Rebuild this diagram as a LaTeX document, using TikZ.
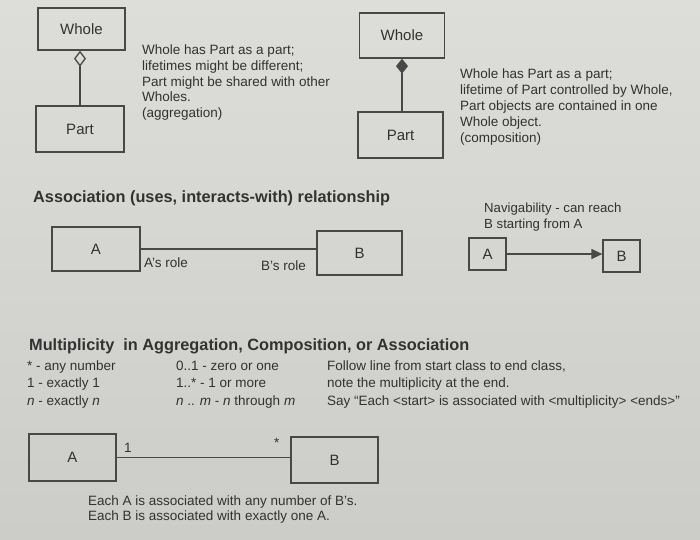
\documentclass[tikz,border=0pt]{standalone}
\usepackage{fontspec}
\setmainfont{Liberation Sans}
\usepackage{tikz}
\usetikzlibrary{arrows.meta}
\definecolor{ink}{RGB}{50,50,50}
\definecolor{wire}{RGB}{72,72,72}
\definecolor{paper}{RGB}{221,221,218}
\definecolor{paperdark}{RGB}{204,204,201}

\begin{document}
\begin{tikzpicture}[x=1pt,y=-1pt,
  cls/.style={draw=wire,line width=1.3pt,inner sep=0pt,text=ink,font=\fontsize{15}{15}\selectfont},
  note/.style={anchor=north west,align=left,inner sep=0pt,text=ink,font=\fontsize{13.5}{15.6}\selectfont},
  head/.style={anchor=west,inner sep=0pt,text=ink,font=\bfseries\fontsize{16.3}{16.3}\selectfont},
  link/.style={draw=wire,line width=1.3pt}]
\fill[top color=paper,bottom color=paperdark] (0,0) rectangle (700,539);
\useasboundingbox (0,0) rectangle (700,539);
% aggregation
\node[cls,minimum width=87pt,minimum height=42pt] (w1) at (81.5,29) {Whole};
\node[cls,minimum width=88pt,minimum height=46pt] (p1) at (80,129) {Part};
\draw[link,-{Diamond[open,length=16pt,width=12pt]}] (p1.north) -- (p1.north |- w1.south);
\node[note] (t1) at (142,45) {Whole has Part as a part;\\lifetimes might be different;\\Part might be shared with other\\Wholes.\\(aggregation)};
% composition
\node[cls,minimum width=85pt,minimum height=45pt] (w2) at (402,35.5) {Whole};
\node[cls,minimum width=85pt,minimum height=46pt] (p2) at (400.5,135) {Part};
\draw[link,-{Diamond[length=15pt,width=12pt]}] (p2.north -| w2.south) -- (w2.south);
\node[note,font=\fontsize{13.5}{16}\selectfont] (t2) at (460,68.5) {Whole has Part as a part;\\lifetime of Part controlled by Whole,\\Part objects are contained in one\\Whole object.\\(composition)};
% association
\node[head] (h1) at (33,198.5) {Association (uses, interacts-with) relationship};
\node[cls,minimum width=88pt,minimum height=44pt] (a1) at (96,249) {A};
\node[cls,minimum width=85pt,minimum height=44pt] (b1) at (359.5,253) {B};
\draw[link] (a1.east) -- (a1.east -| b1.west);
\node[note,anchor=west] (r1) at (144,263) {A's role};
\node[note,anchor=west] (r2) at (261,266) {B's role};
% navigability
\node[note,font=\fontsize{13.2}{16}\selectfont] (t3) at (484,203) {Navigability - can reach\\B starting from A};
\node[cls,minimum width=37pt,minimum height=32pt] (a2) at (487.5,254) {A};
\node[cls,minimum width=37pt,minimum height=32pt] (b2) at (621.5,256) {B};
\draw[link,-{Triangle[length=11pt,width=10pt]}] (a2.east) -- (a2.east -| b2.west);
% multiplicity
\node[head] (h2) at (29,346.5) {Multiplicity\ \ in Aggregation, Composition, or Association};
\node[note,font=\fontsize{13.5}{17.5}\selectfont] (m1) at (27,360.5) {* - any number\\1 - exactly 1\\\textit{n} - exactly \textit{n}};
\node[note,font=\fontsize{13.5}{17.5}\selectfont] (m2) at (176,360.5) {0..1 - zero or one\\1..* - 1 or more\\\textit{n} .. \textit{m} - \textit{n} through \textit{m}};
\node[note,font=\fontsize{13.5}{17.5}\selectfont] (m3) at (327,360.5) {Follow line from start class to end class,\\note the multiplicity at the end.\\Say “Each <start> is associated with <multiplicity> <ends>”};
% example
\node[cls,minimum width=87pt,minimum height=47pt] (a3) at (72.5,457.5) {A};
\node[cls,minimum width=87pt,minimum height=46pt] (b3) at (334.5,460) {B};
\draw[link] (a3.east) -- (a3.east -| b3.west);
\node[note,anchor=west] (k1) at (124,448) {1};
\node[note,anchor=west] (k2) at (274,443) {*};
\node[note,font=\fontsize{13.5}{15}\selectfont] (t4) at (88,496) {Each A is associated with any number of B's.\\Each B is associated with exactly one A.};
\end{tikzpicture}
\end{document}
